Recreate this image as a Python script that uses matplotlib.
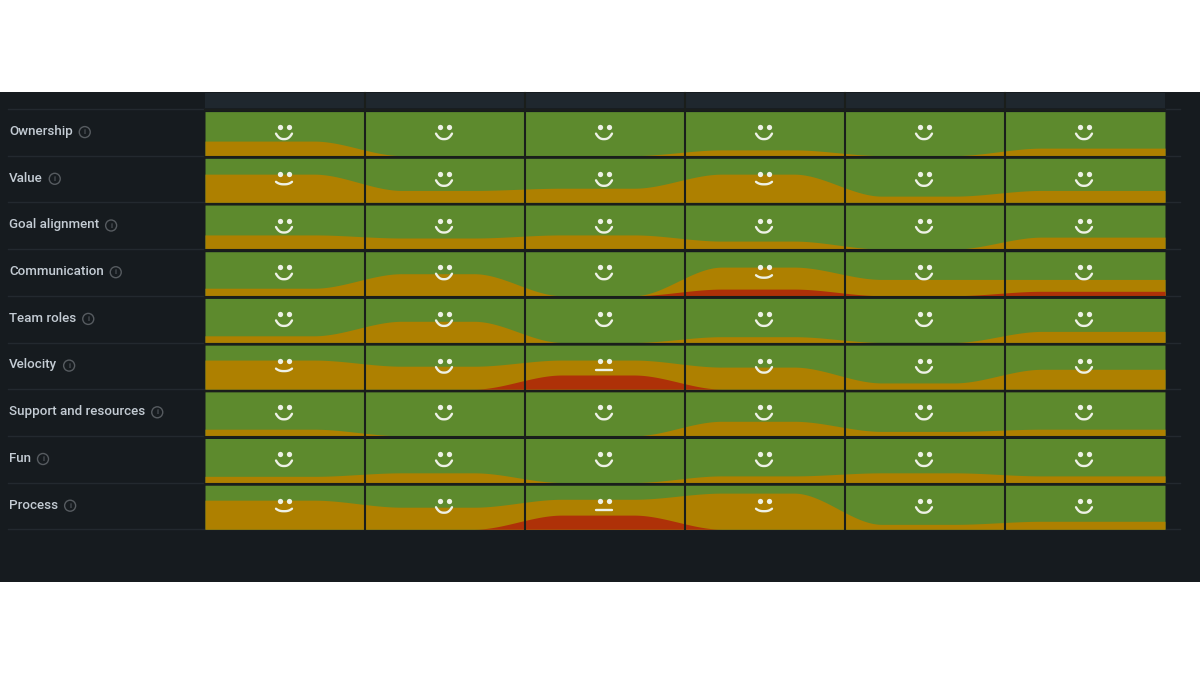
import numpy as np
import matplotlib
matplotlib.use("Agg")
import matplotlib.pyplot as plt
from matplotlib.patches import Circle, Rectangle

# Row names, top to bottom
rows = ["Ownership", "Value", "Goal alignment", "Communication", "Team roles",
        "Velocity", "Support and resources", "Fun", "Process"]

# Height of the amber band in each of the 6 columns (share of the cell)
amber = [
    [0.33, 0.00, 0.00, 0.13, 0.00, 0.17],
    [0.64, 0.27, 0.32, 0.64, 0.14, 0.27],
    [0.32, 0.25, 0.32, 0.18, 0.00, 0.27],
    [0.17, 0.50, 0.00, 0.65, 0.37, 0.37],
    [0.15, 0.48, 0.00, 0.13, 0.00, 0.25],
    [0.66, 0.52, 0.66, 0.50, 0.14, 0.45],
    [0.15, 0.00, 0.00, 0.33, 0.10, 0.15],
    [0.14, 0.22, 0.00, 0.15, 0.22, 0.15],
    [0.66, 0.50, 0.68, 0.82, 0.11, 0.18],
]
# Height of the red band, same layout
red = [
    [0, 0, 0, 0, 0, 0],
    [0, 0, 0, 0, 0, 0],
    [0, 0, 0, 0, 0, 0],
    [0, 0, 0, 0.15, 0, 0.10],
    [0, 0, 0, 0, 0, 0],
    [0, 0, 0.32, 0, 0, 0],
    [0, 0, 0, 0, 0, 0],
    [0, 0, 0, 0, 0, 0],
    [0, 0, 0.32, 0, 0, 0],
]

GREEN = "#5d8a2d"
AMBER = "#ae8000"
RED = "#ae3108"
PANEL = "#161b1f"
HEADER = "#1f272e"
LINE = "#23292f"
DIVIDER = "#1a1e1b"
FACE = "#eef1e6"
TEXT = "#c4ccd4"

W, H = 1200, 675
LEFT, COL_W = 205, 160
ROW_TOP, ROW_STEP, CELL_H = 111.6, 46.7, 44


def stepped(levels):
    # hold each column's level, with an eased change around the column edges
    x = np.linspace(0, 6, 1201)
    y = np.full_like(x, levels[0], dtype=float)
    for i in range(5):
        t = np.clip((x - (i + 1 - 0.32)) / 0.55, 0, 1)
        ease = t * t * (3 - 2 * t)
        y += (levels[i + 1] - levels[i]) * ease
    return x, y


fig = plt.figure(figsize=(12, 6.75), dpi=100, facecolor="white")
# overlay in pixel coordinates for the panel, lines, labels and faces
bg = fig.add_axes([0, 0, 1, 1], zorder=0)
bg.set_xlim(0, W)
bg.set_ylim(H, 0)
bg.axis("off")
bg.add_patch(Rectangle((0, 92), W, 490, color=PANEL, lw=0))
bg.add_patch(Rectangle((LEFT, 93), COL_W * 6, 15, color=HEADER, lw=0))

over = fig.add_axes([0, 0, 1, 1], zorder=3)
over.set_xlim(0, W)
over.set_ylim(H, 0)
over.axis("off")
over.patch.set_alpha(0)

for r, name in enumerate(rows):
    top = ROW_TOP + r * ROW_STEP
    ax = fig.add_axes([LEFT / W, 1 - (top + CELL_H) / H, COL_W * 6 / W, CELL_H / H], zorder=2)
    ax.set_xlim(0, 6)
    ax.set_ylim(0, 1)
    ax.axis("off")
    x, a = stepped(amber[r])
    _, b = stepped(red[r])
    ax.fill_between(x, 0, 1, color=GREEN, lw=0)
    ax.fill_between(x, 0, a, color=AMBER, lw=0)
    ax.fill_between(x, 0, b, color=RED, lw=0)

    # row separator
    bg.plot([8, 1180], [top - 2.6] * 2, color=LINE, lw=1)
    over.plot([LEFT, LEFT + COL_W * 6], [top - 1.3] * 2, color=DIVIDER, lw=1.5)

    label = over.text(9, top + 19.8, name, color=TEXT, fontsize=9.6, family="Roboto",
                      fontweight="medium", va="center", ha="left")
    box = label.get_window_extent(fig.canvas.get_renderer())
    cx = box.x1 + 12
    over.add_patch(Circle((cx, top + 20.5), 5.5, fill=False, ec="#565b60", lw=1))
    over.text(cx, top + 20.5, "i", color="#6d7277", fontsize=6, ha="center", va="center", family="Roboto")

    for c in range(6):
        mid = LEFT + COL_W * (c + 0.5) - 1
        over.plot([mid - 4.5, mid + 4.5], [top + 15.5] * 2, ls="none", marker="o", ms=3.8,
                  color=FACE, mew=0)
        dx = np.linspace(-8, 8, 40)
        if red[r][c] >= 0.3:
            base, depth = 24.5, 0
        elif amber[r][c] >= 0.6:
            base, depth = 23.5, 2.5
        else:
            base, depth = 22, 5.5
        over.plot(mid + dx, top + base + depth * (1 - np.abs(dx / 8) ** 2.6), color=FACE, lw=1.7,
                  solid_capstyle="round")

bg.plot([8, 1180], [ROW_TOP + 9 * ROW_STEP - 2.6] * 2, color=LINE, lw=1)

# column dividers run through the header as well
for c in range(1, 6):
    over.plot([LEFT + COL_W * c] * 2, [93, ROW_TOP + 9 * ROW_STEP - 3], color=DIVIDER, lw=1.5)

fig.savefig("out.png", dpi=100)
